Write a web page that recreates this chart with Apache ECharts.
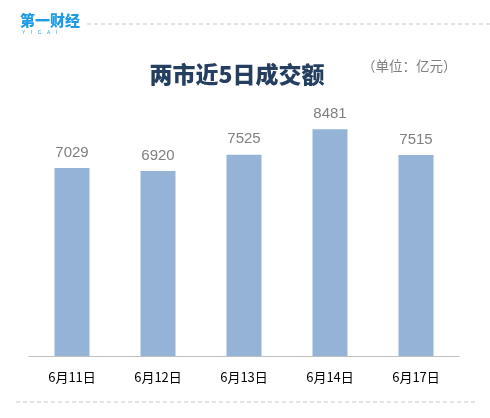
<!DOCTYPE html>
<html><head><meta charset="utf-8">
<script src="https://cdn.jsdelivr.net/npm/echarts@6/dist/echarts.min.js"></script>
<style>html,body{margin:0;padding:0;background:#fff}#c{width:490px;height:418px}</style>
</head><body><div id="c"></div>
<script>
const categories = ['6月11日','6月12日','6月13日','6月14日','6月17日'];
const values = [7029, 6920, 7525, 8481, 7515];

const chart = echarts.init(document.getElementById('c'));
chart.setOption({
  animation: false,
  title: {
    text: '两市近5日成交额',
    left: 232, top: 58, textAlign: 'center',
    textStyle: {fontFamily: 'Noto Sans CJK SC', fontSize: 23, fontWeight: 900, color: '#243f60'}
  },
  grid: {left: 29, right: 31, top: 88.5, bottom: 62},
  xAxis: {
    type: 'category', data: categories,
    axisLine: {lineStyle: {color: '#bfbfbf', width: 1}},
    axisTick: {show: false},
    axisLabel: {color: '#000', fontSize: 13, fontFamily: 'Noto Sans CJK SC', margin: 15}
  },
  yAxis: {type: 'value', min: 0, max: 10000, show: false, splitLine: {show: false}},
  series: [{
    type: 'bar', data: values, barWidth: 35,
    itemStyle: {color: '#95b3d7'},
    label: {show: true, position: 'top', distance: 8, color: '#7f7f7f', fontSize: 15, fontFamily: 'Liberation Sans'}
  }],
  graphic: [
    {type: 'text', left: 20, top: 13, style: {text: '第一财经', fill: '#1e9be6', fontSize: 15, fontWeight: 900, fontFamily: 'Noto Sans CJK SC'}},
    {type: 'text', left: 22, top: 30, style: {text: 'Y    I    C    A    I', fill: '#1e9be6', fontSize: 5, fontFamily: 'Liberation Sans'}},
    {type: 'line', shape: {x1: 87, y1: 24, x2: 490, y2: 24}, style: {stroke: '#c8c8c8', lineWidth: 1, lineDash: [4, 3]}},
    {type: 'line', shape: {x1: 16, y1: 402, x2: 476, y2: 402}, style: {stroke: '#c8c8c8', lineWidth: 1, lineDash: [4, 3]}},
    {type: 'text', left: 362, top: 59, style: {text: '（单位：亿元）', fill: '#7f7f7f', fontSize: 13.5, fontFamily: 'Noto Sans CJK SC'}}
  ]
});
</script></body></html>
